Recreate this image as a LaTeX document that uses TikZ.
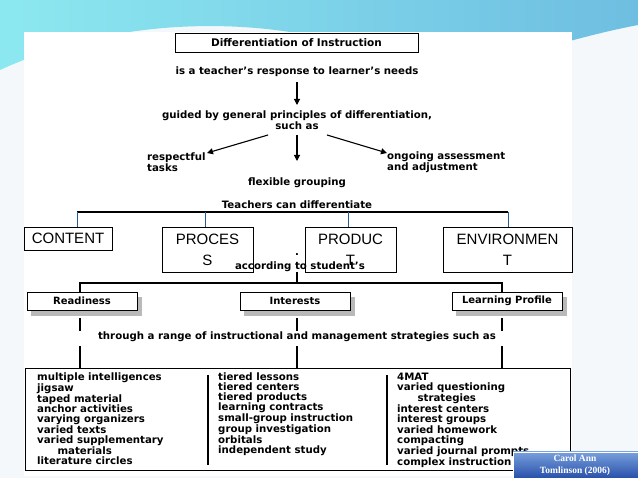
\documentclass[tikz,border=0pt]{standalone}
\usepackage{fontspec}
\setmainfont{DejaVu Sans}
\newfontfamily\argfont{Liberation Sans}
\newfontfamily\serfont{Liberation Serif}
\usetikzlibrary{arrows.meta}
\begin{document}
\begin{tikzpicture}[x=1pt,y=-1pt,
 sm/.style={font=\fontsize{10.2}{11.5}\selectfont\bfseries,inner sep=1pt},
 lst/.style={anchor=north west,align=left,inner sep=0pt,font=\fontsize{10.2}{9.9}\selectfont\bfseries},
 bigbox/.style={draw=black,thick,fill=white,font=\argfont\fontsize{15}{21}\selectfont,align=center,inner sep=1pt},
 hb/.style={draw=black,thick,fill=white,font=\fontsize{10}{10}\selectfont\bfseries},
 ln/.style={line width=1.1pt},
 arr/.style={line width=1.1pt,-{Triangle[length=6pt,width=6pt]}}]
\useasboundingbox (0,0) rectangle (638,478);
\fill[color={rgb,255:red,244;green,248;blue,250}] (0,0) rectangle (638,478);
\shade[left color={rgb,255:red,140;green,232;blue,240},right color={rgb,255:red,110;green,190;blue,225}]
 (0,0) -- (638,0) -- (638,25) .. controls (560,40) and (520,60) .. (470,60) -- (330,40) .. controls (250,20) and (120,15) .. (0,70) -- cycle;
\fill[white] (24,32) rectangle (572,476);
\node[draw=black,thick,minimum width=243,minimum height=19,font=\fontsize{10.5}{11}\selectfont\bfseries] (title) at (296.5,42.5) {Differentiation of Instruction};
\node[sm] (resp) at (297,72) {is a teacher's response to learner's needs};
\node[sm,align=center] (guid) at (297,120) {guided by general principles of differentiation,\\such as};
\node[sm,align=left,anchor=west] (resp2) at (146,162) {respectful\\tasks};
\node[sm,align=left,anchor=west] (ong) at (386,162) {ongoing assessment\\and adjustment};
\node[sm] (flex) at (297,183) {flexible grouping};
\node[sm] (teach) at (297,205) {Teachers can differentiate};
\coordinate (a1) at (297,82); \coordinate (a2) at (297,105);
\draw[arr] (a1) -- (a2);
\coordinate (l1) at (268,135); \coordinate (l2) at (207,153);
\coordinate (c1) at (297,135); \coordinate (c2) at (297,161);
\coordinate (r1) at (327,135); \coordinate (r2) at (387,153);
\draw[arr] (l1) -- (l2); \draw[arr] (c1) -- (c2); \draw[arr] (r1) -- (r2);
\coordinate (h1) at (77,212); \coordinate (h2) at (508,212);
\draw[ln] (h1) -- (h2);
\node[bigbox,minimum width=88,minimum height=23] (cont) at (68,238.5) {CONTENT};
\node[bigbox,minimum width=91,minimum height=45,anchor=north] (proc) at (207.5,227) {PROCES\\S};
\node[bigbox,minimum width=91,minimum height=45,anchor=north] (prod) at (350.5,227) {PRODUC\\T};
\node[bigbox,minimum width=129,minimum height=45,anchor=north] (env) at (507.5,227) {ENVIRONMEN\\T};
\foreach \n/\xx in {cont/77,proc/205,prod/348,env/508}{
 \coordinate (s\n) at (\xx,212);
 \draw[color={rgb,255:red,40;green,90;blue,150},thick] (s\n) -- (\xx,227);}
\node[sm] (acc) at (300,267) {according to student's};
\node[sm] at (297,255) {.};
\coordinate (g1) at (297,272); \coordinate (g2) at (297,283);
\draw[ln] (g1) -- (g2);
\coordinate (k1) at (80,283); \coordinate (k2) at (502,283);
\draw[ln] (80,292) -- (k1) -- (k2) -- (502,292);
\foreach \n/\xx/\t in {rd/82/Readiness,in/295/Interests,lp/507/Learning Profile}{
 \fill[gray!55] (\xx-51,297) rectangle (\xx+60,316);
 \node[hb,minimum width=110,minimum height=18] (\n) at (\xx,301) {\t};}
\node[sm] (thr) at (297,337) {through a range of instructional and management strategies such as};
\foreach \xx in {80,297,502}{\draw[ln] (\xx,318) -- (\xx,331); \draw[ln] (\xx,346) -- (\xx,368);}
\node[draw=black,thick,minimum width=545,minimum height=102,anchor=north west] (big) at (25,368) {};
\draw[ln] (208,375) -- (208,465);
\draw[ln] (387,375) -- (387,465);
\node[lst] (c1t) at (37,373) {multiple intelligences\\jigsaw\\taped material\\anchor activities\\varying organizers\\varied texts\\varied supplementary\\\hspace{2em}materials\\literature circles};
\node[lst] (c2t) at (218,373) {tiered lessons\\tiered centers\\tiered products\\learning contracts\\small-group instruction\\group investigation\\orbitals\\independent study};
\node[lst] (c3t) at (397,373) {4MAT\\varied questioning\\\hspace{2em}strategies\\interest centers\\interest groups\\varied homework\\compacting\\varied journal prompts\\complex instruction};
\shade[top color={rgb,255:red,120;green,160;blue,220},bottom color={rgb,255:red,40;green,80;blue,170},draw=white] (513,452) rectangle (638,478);
\node[text=white,align=center,font=\serfont\fontsize{9.5}{11.5}\selectfont\bfseries] (carol) at (575,465) {Carol Ann\\Tomlinson (2006)};
\end{tikzpicture}
\end{document}
